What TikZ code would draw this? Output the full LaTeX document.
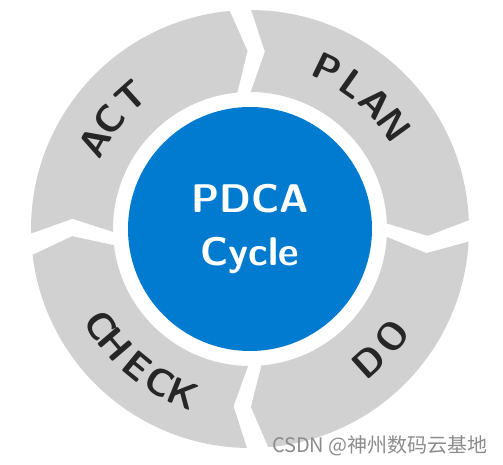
\documentclass[tikz,border=0pt]{standalone}
\usepackage{fontspec}
\newfontfamily\cjkwm{Noto Sans CJK SC}
\definecolor{ringgray}{RGB}{209,209,209}
\definecolor{pdcablue}{RGB}{0,123,208}
\def\pdcaH{2.8}
\def\pdcaD{4.5}
\newcommand\pdcaSeg[2]{%
  \fill[ringgray] ({#1-\pdcaH}:219pt)
    arc[start angle=#1-\pdcaH, end angle=#2+\pdcaH, radius=219pt]
    -- ({#2+\pdcaH-\pdcaD}:178pt) -- ({#2+\pdcaH}:137pt)
    arc[start angle=#2+\pdcaH, end angle=#1-\pdcaH, radius=137pt]
    -- ({#1-\pdcaH-\pdcaD}:178pt) -- cycle;}
\tikzset{
  lbl/.style={font=\fontsize{38}{38}\selectfont\sffamily\bfseries, text=black!85, inner sep=0pt},
  core/.style={circle, fill=pdcablue, minimum size=244pt, inner sep=0pt},
  title/.style={font=\fontsize{40}{53}\selectfont\sffamily\bfseries, text=white, align=center},
  wm/.style={font=\cjkwm\fontsize{20}{20}\selectfont, text=black!45, anchor=east, inner sep=0pt}
}
\begin{document}
\begin{tikzpicture}
\useasboundingbox[fill=white] (-250pt,-236pt) rectangle (253pt,229pt);
% ring segments (clockwise arrows)
\pdcaSeg{92.5}{-0.5}
\pdcaSeg{359.5}{272}
\pdcaSeg{272}{184}
\pdcaSeg{184}{92.5}
% centre
\node[core] (core) at (0,0) {};
\node[title] (title) at (0,0) {PDCA\\Cycle};
% labels (top: read clockwise, bottom: read counter-clockwise)
\foreach \l/\a [count=\i] in {P/64.1, L/54.7, A/45.2, N/35.8}
  \node[lbl, rotate=\a-90] (plan\i) at (\a:178pt) {\l};
\foreach \l/\a [count=\i] in {A/150.6, C/142.2, T/131.9}
  \node[lbl, rotate=\a-90] (act\i) at (\a:178pt) {\l};
\foreach \l/\a [count=\i] in {D/312, O/323}
  \node[lbl, rotate=\a+90] (do\i) at (\a:178pt) {\l};
\foreach \l/\a [count=\i] in {C/212.8, H/220.6, E/230.6, C/239.5, K/248}
  \node[lbl, rotate=\a+90] (check\i) at (\a:178pt) {\l};
\node[wm] (wm) at (238pt,-217pt) {CSDN @神州数码云基地};
\end{tikzpicture}
\end{document}
